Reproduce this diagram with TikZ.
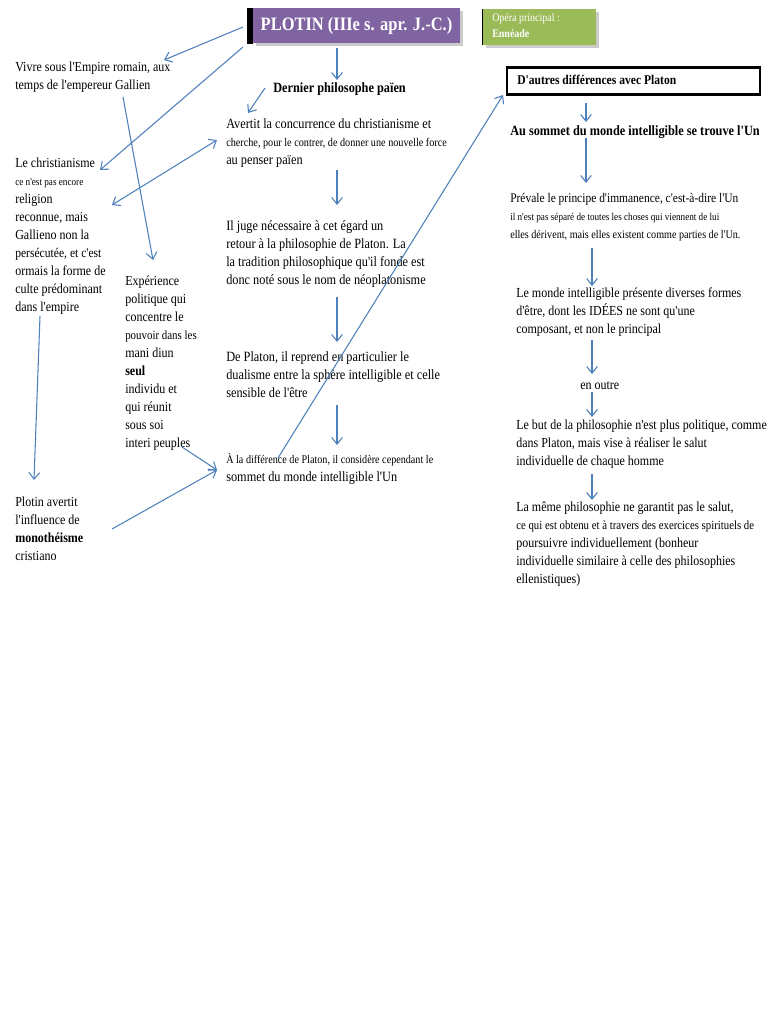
\documentclass[tikz,border=0pt]{standalone}
\usepackage{fontspec}
\setmainfont{Liberation Serif}[FakeStretch=0.87,Ligatures=TeXOff]
\usetikzlibrary{arrows.meta,shadows,calc}
\definecolor{arrblue}{HTML}{4F81BD}
\definecolor{boxpurple}{HTML}{8064A2}
\definecolor{boxgreen}{HTML}{9BBB59}
\newcommand\nsz{\fontsize{10.35pt}{13.5pt}\selectfont}
\newcommand\msz{\fontsize{10.6pt}{13.5pt}\selectfont}
\newcommand\fsz[1]{\fontsize{#1}{13.5pt}\selectfont}
\begin{document}
\begin{tikzpicture}[x=0.75pt,y=-0.75pt,
  txt/.style={anchor=north west,inner sep=0pt,align=left,font=\nsz},
  mtxt/.style={txt,font=\msz},
  conn/.style={draw=arrblue,line width=0.8pt,-{Straight Barb[length=5pt,width=8pt]}},
  biconn/.style={draw=arrblue,line width=0.8pt,{Straight Barb[length=5pt,width=8pt]}-{Straight Barb[length=5pt,width=8pt]}}]
\useasboundingbox (0,0) rectangle (768,1024);
\fill[white] (0,0) rectangle (768,1024);
% title boxes
\node[fill=boxpurple,text=white,font=\fontsize{14.2pt}{16pt}\selectfont\bfseries,
  minimum width=155.25pt,minimum height=26.25pt,inner sep=0pt,
  drop shadow={shadow xshift=2.2pt,shadow yshift=-2.2pt,fill=black!40,opacity=0.5}]
  (title) at (356.5,26) {PLOTIN (IIIe s. apr. J.-C.)};
\fill[black] (title.north west) rectangle ($(title.south west)+(-6,0)$);
\node[fill=boxgreen,text=white,minimum width=84.75pt,minimum height=27pt,inner sep=0pt,
  drop shadow={shadow xshift=2.2pt,shadow yshift=-2.2pt,fill=black!40,opacity=0.5}]
  (opera) at (539.5,27) {};
\draw[black,line width=1pt] (opera.north west) -- (opera.south west);
\node[anchor=north west,inner sep=0pt,align=left,text=white,font=\fontsize{8.6pt}{12pt}\selectfont]
  (operatxt) at (492,13) {Opéra principal :\\\textbf{Ennéade}};
\node[draw=black,line width=1.6pt,minimum width=189.75pt,minimum height=20.25pt,inner sep=0pt]
  (dautresbox) at (633.5,81) {};
\node[anchor=west,inner sep=0pt,font=\fontsize{10pt}{12pt}\selectfont\bfseries]
  (dautres) at (517,80) {D'autres différences avec Platon};
% left column
\node[txt] (vivre) at (15,62) {Vivre sous l'Empire romain, aux\\temps de l'empereur Gallien};
\node[txt] (christ) at (15,158) {Le christianisme\\{\fsz{7.9pt}ce n'est pas encore}\\religion\\reconnue, mais\\Gallieno non la\\{\fsz{10pt}persécutée, et c'est}\\ormais la forme de\\culte prédominant\\dans l'empire};
\node[txt] (exp) at (125,276) {Expérience\\politique qui\\concentre le\\{\fsz{9.4pt}pouvoir dans les}\\mani diun\\\textbf{seul}\\individu et\\qui réunit\\sous soi\\interi peuples};
\node[txt] (plotin) at (15,497) {Plotin avertit\\l'influence de\\\textbf{monothéisme}\\cristiano};
% middle column
\node[txt,font=\fontsize{10.6pt}{13.5pt}\selectfont\bfseries] (dernier) at (273,82) {Dernier philosophe païen};
\node[mtxt] (avertit) at (226,118) {Avertit la concurrence du christianisme et\\{\fsz{8.8pt}cherche, pour le contrer, de donner une nouvelle force}\\au penser païen};
\node[mtxt] (juge) at (226,220) {Il juge nécessaire à cet égard un\\retour à la philosophie de Platon. La\\la tradition philosophique qu'il fonde est\\donc noté sous le nom de néoplatonisme};
\node[mtxt] (deplaton) at (226,351) {De Platon, il reprend en particulier le\\dualisme entre la sphère intelligible et celle\\sensible de l'être};
\node[mtxt] (diff) at (226,453) {{\fsz{8.75pt}À la différence de Platon, il considère cependant le}\\sommet du monde intelligible l'Un};
% right column
\node[txt,font=\fontsize{10.6pt}{13.5pt}\selectfont\bfseries] (ausommet) at (510,125) {Au sommet du monde intelligible se trouve l'Un};
\node[txt] (prevale) at (510,193) {{\fsz{9.9pt}Prévale le principe d'immanence, c'est-à-dire l'Un}\\{\fsz{7.9pt}il n'est pas séparé de toutes les choses qui viennent de lui}\\{\fsz{8.75pt}elles dérivent, mais elles existent comme parties de l'Un.}};
\node[txt] (monde) at (516,288) {Le monde intelligible présente diverses formes\\d'être, dont les IDÉES ne sont qu'une\\composant, et non le principal};
\node[txt] (enoutre) at (580,381) {en outre};
\node[txt] (but) at (516,420) {Le but de la philosophie n'est plus politique, comme\\dans Platon, mais vise à réaliser le salut\\individuelle de chaque homme};
\node[txt] (meme) at (516,502) {La même philosophie ne garantit pas le salut,\\{\fsz{9.3pt}ce qui est obtenu et à travers des exercices spirituels de}\\poursuivre individuellement (bonheur\\individuelle similaire à celle des philosophies\\ellenistiques)};
% connector ends
\coordinate (t1) at (243,27);  \coordinate (v1) at (164,60);
\coordinate (t2) at (243,47);  \coordinate (c1) at (100,170);
\coordinate (t3) at (337,48);  \coordinate (d1) at (337,80);
\coordinate (d2) at (265,88);  \coordinate (a1) at (248,113);
\coordinate (c2) at (112,205); \coordinate (a2) at (217,140);
\coordinate (v2) at (123,97);  \coordinate (e1) at (153,260);
\coordinate (a3) at (337,170); \coordinate (j1) at (337,205);
\coordinate (j2) at (337,297); \coordinate (p1) at (337,342);
\coordinate (p2) at (337,405); \coordinate (f1) at (337,445);
\coordinate (c3) at (40,316);  \coordinate (pl1) at (34,480);
\coordinate (e2) at (182,447); \coordinate (f2) at (217,470);
\coordinate (pl2) at (112,529);
\coordinate (f3) at (278,458); \coordinate (b1) at (503,95);
\coordinate (b2) at (586,103); \coordinate (s1) at (586,122);
\coordinate (s2) at (586,138); \coordinate (r1) at (586,183);
\coordinate (r2) at (592,248); \coordinate (m1) at (592,286);
\coordinate (m2) at (592,340); \coordinate (o1) at (592,374);
\coordinate (o2) at (592,392); \coordinate (u1) at (592,417);
\coordinate (u2) at (592,474); \coordinate (g1) at (592,500);
% connectors
\draw[conn] (t1) -- (v1);
\draw[conn] (t2) -- (c1);
\draw[conn] (t3) -- (d1);
\draw[conn] (d2) -- (a1);
\draw[biconn] (c2) -- (a2);
\draw[conn] (v2) -- (e1);
\draw[conn] (a3) -- (j1);
\draw[conn] (j2) -- (p1);
\draw[conn] (p2) -- (f1);
\draw[conn] (c3) -- (pl1);
\draw[conn] (e2) -- (f2);
\draw[conn] (pl2) -- (f2);
\draw[conn] (f3) -- (b1);
\draw[conn] (b2) -- (s1);
\draw[conn] (s2) -- (r1);
\draw[conn] (r2) -- (m1);
\draw[conn] (m2) -- (o1);
\draw[conn] (o2) -- (u1);
\draw[conn] (u2) -- (g1);
\end{tikzpicture}
\end{document}
